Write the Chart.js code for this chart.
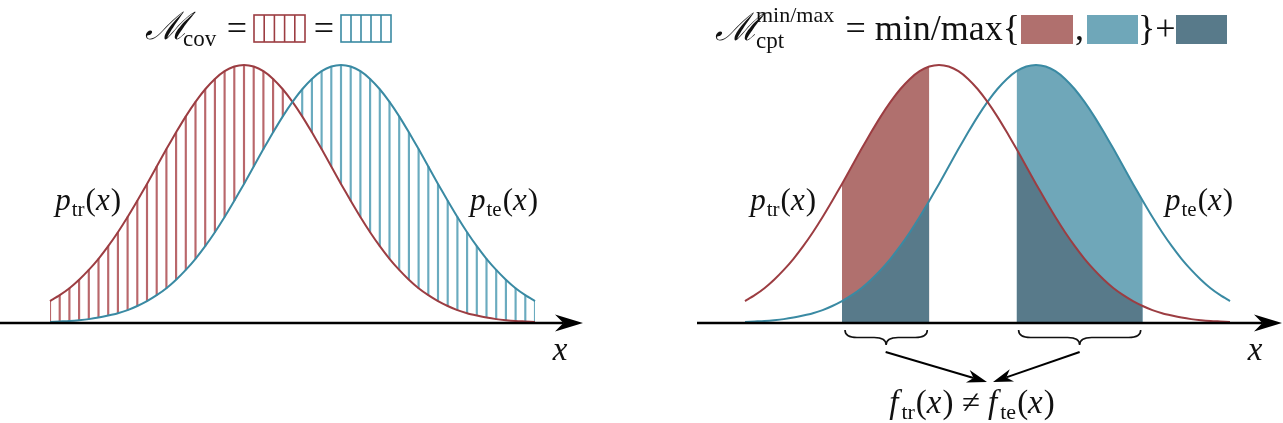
<!DOCTYPE html>
<html>
<head>
<meta charset="utf-8">
<script src="https://cdn.jsdelivr.net/npm/chart.js@4.4.1/dist/chart.umd.min.js"></script>
<style>
html, body { margin: 0; padding: 0; background: #fff; overflow: hidden; }
#wrap { position: relative; width: 1283px; height: 423px; }
canvas { position: absolute; top: 0; }
#left { left: 0; }
#right { left: 650px; }
</style>
</head>
<body>
<div id="wrap">
  <canvas id="left" width="650" height="423"></canvas>
  <canvas id="right" width="633" height="423"></canvas>
</div>
<script>
// x positions (arbitrary units)
let xs = [-5, -4.8, -4.6, -4.4, -4.2, -4, -3.8, -3.6, -3.4, -3.2, -3, -2.8, -2.6, -2.4, -2.2, -2, -1.8, -1.6, -1.4, -1.2, -1,
  -0.8, -0.6, -0.4, -0.2, 0, 0.2, 0.4, 0.6, 0.8, 1, 1.2, 1.4, 1.6, 1.8, 2, 2.2, 2.4, 2.6, 2.8, 3,
  3.2, 3.4, 3.6, 3.8, 4, 4.2, 4.4, 4.6, 4.8, 5]

// training density p_tr(x)
let p_tr = [0.085, 0.108, 0.135, 0.168, 0.206, 0.249, 0.298, 0.352, 0.411, 0.474, 0.539, 0.607, 0.674, 0.739, 0.801, 0.857, 0.906, 0.946, 0.976, 0.994, 1.000,
  0.994, 0.976, 0.946, 0.906, 0.857, 0.801, 0.739, 0.674, 0.607, 0.539, 0.474, 0.411, 0.352, 0.298, 0.249,
  0.206, 0.168, 0.135, 0.108, 0.085, 0.066, 0.050, 0.038, 0.029, 0.021, 0.015, 0.011, 0.008, 0.006, 0.004]

// test density p_te(x)
let p_te = [0.004, 0.006, 0.008, 0.011, 0.015, 0.021, 0.029, 0.038, 0.050, 0.066, 0.085, 0.108, 0.135, 0.168, 0.206,
  0.249, 0.298, 0.352, 0.411, 0.474, 0.539, 0.607, 0.674, 0.739, 0.801, 0.857, 0.906, 0.946, 0.976, 0.994, 1.000,
  0.994, 0.976, 0.946, 0.906, 0.857, 0.801, 0.739, 0.674, 0.607, 0.539, 0.474, 0.411, 0.352, 0.298, 0.249, 0.206, 0.168, 0.135, 0.108, 0.085]

// shaded x ranges in the right panel
let tr_region = [-3.0, -1.2]
let te_region = [0.6, 3.2]

const RED = '#9c3d42'
const BLUE = '#3a8aa3'
const RED_HATCH = '#b9676b'
const BLUE_HATCH = '#6aabbf'
const RED_FILL = '#b0706e'
const BLUE_FILL = '#6fa7b9'
const DARK = '#587a8a'
const SERIF = '"Liberation Serif", "DejaVu Serif", serif'

let points = (vals) => xs.map((x, i) => ({x: x, y: vals[i]}))
let inRange = (vals, r) => points(vals).filter(p => p.x >= r[0] - 1e-9 && p.x <= r[1] + 1e-9)

// draws a row of text pieces: [text, font, dy, gap]
function mathText(ctx, parts, x, y, align) {
  let w = 0
  for (let p of parts) { ctx.font = p[1]; w += ctx.measureText(p[0]).width + (p[3] || 0) }
  let cx = align === 'center' ? x - w / 2 : align === 'right' ? x - w : x
  ctx.textAlign = 'left'
  ctx.textBaseline = 'alphabetic'
  for (let p of parts) {
    ctx.font = p[1]
    ctx.fillText(p[0], cx, y + (p[2] || 0))
    cx += ctx.measureText(p[0]).width + (p[3] || 0)
  }
  return cx
}

function stealth(ctx, tx, ty, ang, len, hw) {
  ctx.save()
  ctx.translate(tx, ty)
  ctx.rotate(ang)
  ctx.beginPath()
  ctx.moveTo(0, 0)
  ctx.lineTo(-len, -hw)
  ctx.lineTo(-len * 0.7, 0)
  ctx.lineTo(-len, hw)
  ctx.closePath()
  ctx.fill()
  ctx.restore()
}

function arrow(ctx, x1, y1, x2, y2, w, len, hw) {
  let ang = Math.atan2(y2 - y1, x2 - x1)
  ctx.strokeStyle = '#000'
  ctx.fillStyle = '#000'
  ctx.lineWidth = w
  ctx.beginPath()
  ctx.moveTo(x1, y1)
  ctx.lineTo(x2 - Math.cos(ang) * len * 0.7, y2 - Math.sin(ang) * len * 0.7)
  ctx.stroke()
  stealth(ctx, x2, y2, ang, len, hw)
}

function brace(ctx, x1, x2, y, h) {
  let m = (x1 + x2) / 2, q = h / 2
  ctx.strokeStyle = '#111'
  ctx.lineWidth = 1.6
  ctx.beginPath()
  ctx.moveTo(x1, y)
  ctx.quadraticCurveTo(x1, y + q, x1 + 12, y + q)
  ctx.lineTo(m - 12, y + q)
  ctx.quadraticCurveTo(m, y + q, m, y + h)
  ctx.quadraticCurveTo(m, y + q, m + 12, y + q)
  ctx.lineTo(x2 - 12, y + q)
  ctx.quadraticCurveTo(x2, y + q, x2, y)
  ctx.stroke()
}

function hatchBox(ctx, x, y, w, h, color) {
  ctx.strokeStyle = color
  ctx.lineWidth = 1.6
  ctx.strokeRect(x, y, w, h)
  for (let k = 1; k < 5; k++) {
    ctx.beginPath()
    ctx.moveTo(x + w * k / 5, y)
    ctx.lineTo(x + w * k / 5, y + h)
    ctx.stroke()
  }
}

let italic = (s) => 'italic ' + s + 'px ' + SERIF
let roman = (s) => s + 'px ' + SERIF

function densityLabels(ctx, area) {
  ctx.fillStyle = '#111'
  mathText(ctx, [['p', italic(31), 0, 1], ['tr', roman(21), 6, 1], ['(', roman(31)], ['x', italic(31), 0, 1], [')', roman(31)]], area.left + 71, 210, 'right')
  mathText(ctx, [['p', italic(31), 0, 1], ['te', roman(21), 6, 1], ['(', roman(31)], ['x', italic(31), 0, 1], [')', roman(31)]], area.right - 65, 210, 'left')
}

function xAxis(ctx, chart, from, to) {
  let y = chart.scales.y.getPixelForValue(0)
  arrow(ctx, from, y, to, y, 2.6, 28, 8.5)
}

let leftDeco = {
  id: 'leftDeco',
  afterDatasetsDraw(chart) {
    let a = chart.chartArea
    xAxis(chart.ctx, chart, 0, a.right + 48)
  },
  afterDraw(chart) {
    let ctx = chart.ctx, a = chart.chartArea
    ctx.save()
    densityLabels(ctx, a)
    ctx.fillStyle = '#111'
    mathText(ctx, [['x', italic(33)]], a.right + 25, 360, 'center')
    // title
    mathText(ctx, [['\u2133', italic(38)]], 145, 39, 'left')
    mathText(ctx, [['cov', roman(23)]], 183, 46, 'left')
    mathText(ctx, [['=', roman(36)]], 237, 40, 'center')
    hatchBox(ctx, 254, 15, 51, 27, RED)
    ctx.fillStyle = '#111'
    mathText(ctx, [['=', roman(36)]], 324, 40, 'center')
    hatchBox(ctx, 341, 15, 50, 27, BLUE)
    ctx.restore()
  }
}

let rightDeco = {
  id: 'rightDeco',
  afterDatasetsDraw(chart) {
    let a = chart.chartArea
    xAxis(chart.ctx, chart, a.left - 48, chart.width - 1)
  },
  afterDraw(chart) {
    let ctx = chart.ctx, a = chart.chartArea, xsc = chart.scales.x
    let y0 = chart.scales.y.getPixelForValue(0)
    let off = 650
    ctx.save()
    densityLabels(ctx, a)
    ctx.fillStyle = '#111'
    mathText(ctx, [['x', italic(33)]], a.right + 25, 360, 'center')
    // braces under the shaded ranges
    let b1 = [xsc.getPixelForValue(tr_region[0]), xsc.getPixelForValue(tr_region[1])]
    let b2 = [xsc.getPixelForValue(te_region[0]), xsc.getPixelForValue(te_region[1])]
    brace(ctx, b1[0] + 3, b1[1] - 2, y0 + 7, 15)
    brace(ctx, b2[0] + 2, b2[1] - 2, y0 + 7, 15)
    let m1 = (b1[0] + b1[1]) / 2, m2 = (b2[0] + b2[1]) / 2
    let c = 990 - off
    arrow(ctx, m1, y0 + 29, c - 3, y0 + 59, 2, 20, 6.5)
    arrow(ctx, m2, y0 + 29, c + 3, y0 + 59, 2, 20, 6.5)
    ctx.fillStyle = '#111'
    mathText(ctx, [['f', italic(33), 0, 3], ['tr', roman(22), 6, 1], ['(', roman(33)], ['x', italic(33), 0, 1], [')', roman(33)],
      [' \u2260 ', roman(33)],
      ['f', italic(33), 0, 3], ['te', roman(22), 6, 1], ['(', roman(33)], ['x', italic(33), 0, 1], [')', roman(33)]], 972 - off, 413, 'center')
    // title
    mathText(ctx, [['\u2133', italic(38)]], 715 - off, 40, 'left')
    mathText(ctx, [['min/max', roman(22)]], 756 - off, 22, 'left')
    mathText(ctx, [['cpt', roman(23)]], 756 - off, 48, 'left')
    mathText(ctx, [['= min/max{', roman(36)]], 1020 - off, 40, 'right')
    ctx.fillStyle = RED_FILL
    ctx.fillRect(1021 - off, 15, 52, 29)
    ctx.fillStyle = '#111'
    mathText(ctx, [[',', roman(36)]], 1075 - off, 40, 'left')
    ctx.fillStyle = BLUE_FILL
    ctx.fillRect(1087 - off, 15, 51, 29)
    ctx.fillStyle = '#111'
    mathText(ctx, [['}+', roman(36)]], 1138 - off, 40, 'left')
    ctx.fillStyle = DARK
    ctx.fillRect(1176 - off, 15, 51, 29)
    ctx.restore()
  }
}

let lineSet = (label, vals, color, order) => ({
  type: 'line', label: label, data: points(vals), borderColor: color, borderWidth: 2,
  pointRadius: 0, tension: 0.25, fill: false, order: order, clip: false
})

let fillSet = (data, color, order) => ({
  type: 'line', data: data, borderColor: 'rgba(0,0,0,0)', borderWidth: 0, backgroundColor: color,
  pointRadius: 0, tension: 0.25, fill: 'origin', order: order
})

let baseOptions = (pad) => ({
  responsive: false,
  animation: false,
  events: [],
  layout: {padding: pad},
  plugins: {legend: {display: false}, tooltip: {enabled: false}},
  scales: {
    x: {type: 'linear', min: -5, max: 5, display: false, offset: false},
    y: {min: 0, max: 1, display: false}
  }
})

new Chart(document.getElementById('left'), {
  type: 'line',
  data: {
    datasets: [
      lineSet('p_tr', p_tr, RED, 2),
      lineSet('p_te', p_te, BLUE, 1),
      {
        type: 'bar',
        data: xs.map((x, i) => ({x: x, y: [Math.min(p_tr[i], p_te[i]), Math.max(p_tr[i], p_te[i])]})),
        backgroundColor: xs.map((x, i) => p_tr[i] >= p_te[i] ? RED_HATCH : BLUE_HATCH),
        borderWidth: 0,
        barThickness: 1.5,
        grouped: false,
        order: 5
      }
    ]
  },
  options: baseOptions({left: 50, right: 115, top: 65, bottom: 100}),
  plugins: [leftDeco]
})

new Chart(document.getElementById('right'), {
  type: 'line',
  data: {
    datasets: [
      lineSet('p_tr', p_tr, RED, 1),
      lineSet('p_te', p_te, BLUE, 2),
      fillSet(inRange(p_tr, tr_region), RED_FILL, 8),
      fillSet(inRange(p_te, tr_region), DARK, 7),
      fillSet(inRange(p_te, te_region), BLUE_FILL, 6),
      fillSet(inRange(p_tr, te_region), DARK, 5)
    ]
  },
  options: baseOptions({left: 95, right: 53, top: 65, bottom: 100}),
  plugins: [rightDeco]
})
</script>
</body>
</html>
